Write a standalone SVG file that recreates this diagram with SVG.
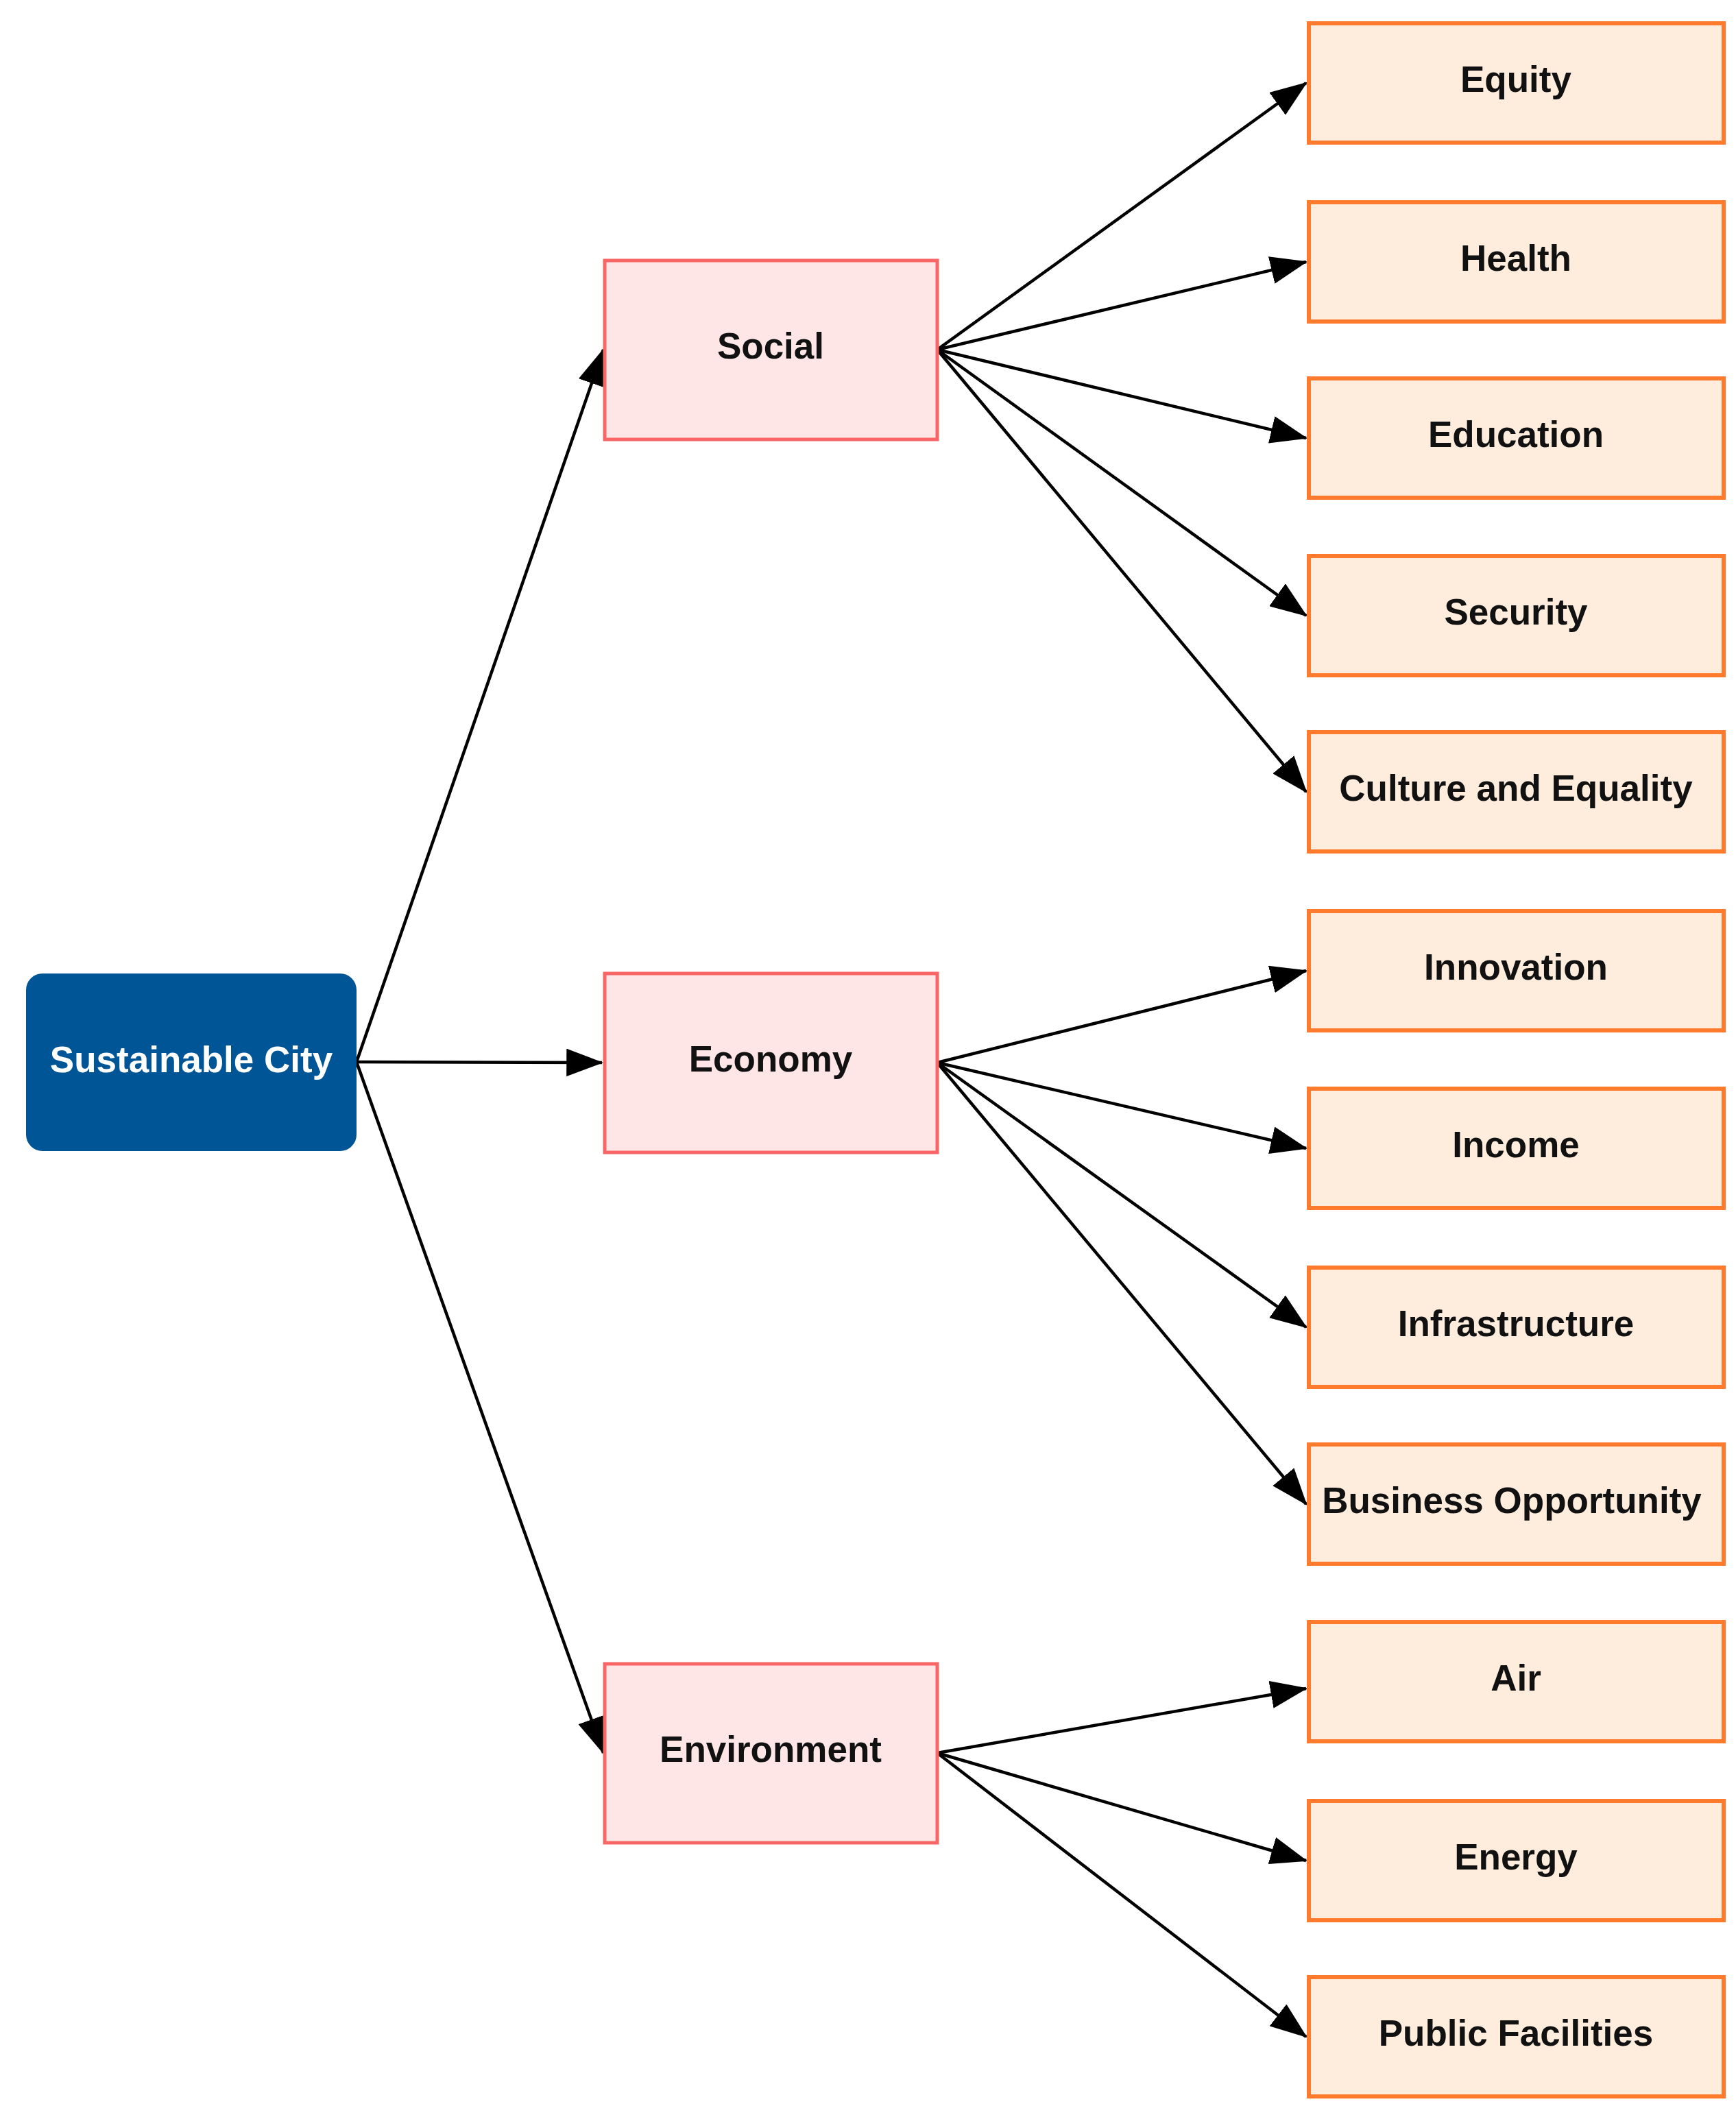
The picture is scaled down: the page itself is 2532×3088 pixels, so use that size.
<svg xmlns="http://www.w3.org/2000/svg" width="2532" height="3088" viewBox="0 0 2532 3088">
<style>
.mid{fill:#fee5e6;stroke:#f96666;stroke-width:5}
.leaf{fill:#feecdc;stroke:#fe7a2c;stroke-width:6}
text{font-family:"Liberation Sans",Arial,sans-serif;font-weight:bold;font-size:53px;text-anchor:middle;dominant-baseline:central;fill:#111}
.c line{stroke:#000;stroke-width:4.5;marker-end:url(#ah)}
</style>
<defs><marker id="ah" markerWidth="12" markerHeight="9" refX="11.5" refY="4.5" orient="auto" markerUnits="strokeWidth"><path d="M0,0L12,4.5L0,9z" fill="#000"/></marker></defs>
<rect width="2532" height="3088" fill="#fff"/>
<g class="c">
<line x1="520" y1="1549" x2="880" y2="510"/>
<line x1="520" y1="1549" x2="878" y2="1550"/>
<line x1="520" y1="1549" x2="880" y2="2557"/>
<line x1="1367" y1="510" x2="1905" y2="121"/>
<line x1="1367" y1="510" x2="1905" y2="382"/>
<line x1="1367" y1="510" x2="1905" y2="639"/>
<line x1="1367" y1="510" x2="1905" y2="898"/>
<line x1="1367" y1="510" x2="1905" y2="1155"/>
<line x1="1367" y1="1550" x2="1905" y2="1416"/>
<line x1="1367" y1="1550" x2="1905" y2="1675"/>
<line x1="1367" y1="1550" x2="1905" y2="1936"/>
<line x1="1367" y1="1550" x2="1905" y2="2194"/>
<line x1="1367" y1="2557" x2="1905" y2="2463"/>
<line x1="1367" y1="2557" x2="1905" y2="2714"/>
<line x1="1367" y1="2557" x2="1905" y2="2971"/>
</g>
<g id="root"><rect x="38" y="1420" width="482" height="259" rx="24" fill="#005597"/><text x="279" y="1545" style="fill:#fff">Sustainable City</text></g>
<g id="social"><rect class="mid" x="882" y="380" width="485" height="261"/><text x="1124" y="504">Social</text></g>
<g id="economy"><rect class="mid" x="882" y="1420" width="485" height="261"/><text x="1124" y="1544">Economy</text></g>
<g id="environment"><rect class="mid" x="882" y="2427" width="485" height="261"/><text x="1124" y="2551">Environment</text></g>
<g id="equity"><rect class="leaf" x="1909" y="34" width="605" height="174"/><text x="2211" y="115">Equity</text></g>
<g id="health"><rect class="leaf" x="1909" y="295" width="605" height="174"/><text x="2211" y="376">Health</text></g>
<g id="education"><rect class="leaf" x="1909" y="552" width="605" height="174"/><text x="2211" y="633">Education</text></g>
<g id="security"><rect class="leaf" x="1909" y="811" width="605" height="174"/><text x="2211" y="892">Security</text></g>
<g id="culture"><rect class="leaf" x="1909" y="1068" width="605" height="174"/><text x="2211" y="1149">Culture and Equality</text></g>
<g id="innovation"><rect class="leaf" x="1909" y="1329" width="605" height="174"/><text x="2211" y="1410">Innovation</text></g>
<g id="income"><rect class="leaf" x="1909" y="1588" width="605" height="174"/><text x="2211" y="1669">Income</text></g>
<g id="infrastructure"><rect class="leaf" x="1909" y="1849" width="605" height="174"/><text x="2211" y="1930">Infrastructure</text></g>
<g id="business"><rect class="leaf" x="1909" y="2107" width="605" height="174"/><text x="2205" y="2188">Business Opportunity</text></g>
<g id="air"><rect class="leaf" x="1909" y="2366" width="605" height="174"/><text x="2211" y="2447">Air</text></g>
<g id="energy"><rect class="leaf" x="1909" y="2627" width="605" height="174"/><text x="2211" y="2708">Energy</text></g>
<g id="public"><rect class="leaf" x="1909" y="2884" width="605" height="174"/><text x="2211" y="2965">Public Facilities</text></g>
</svg>
